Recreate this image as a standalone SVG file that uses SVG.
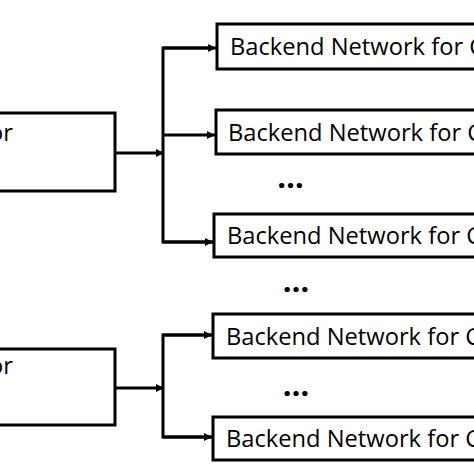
<svg xmlns="http://www.w3.org/2000/svg" width="474" height="474" viewBox="0 0 474 474">
<style>
.box{fill:#fff;stroke:#000;stroke-width:3}
.lbl{font-family:"Open Sans","Liberation Sans",sans-serif;font-size:23.7px;fill:#000}
.dots{font-family:"Open Sans","Liberation Sans",sans-serif;font-size:31px;font-weight:bold;fill:#000}
.ln{fill:none;stroke:#000;stroke-width:3}
</style>
<defs>
<marker id="ah" viewBox="0 0 10 10" refX="10" refY="5" markerWidth="10" markerHeight="8" markerUnits="userSpaceOnUse" orient="auto">
<path d="M0,0 L10,5 L0,10 z" fill="#000"/>
</marker>
</defs>
<rect width="474" height="474" fill="#fff"/>
<g id="src1"><rect class="box" x="-20" y="113" width="135" height="78"/><text class="lbl" x="13" y="141" text-anchor="end">or</text></g>
<g id="src2"><rect class="box" x="-20" y="349" width="135" height="76"/><text class="lbl" x="13" y="374" text-anchor="end">or</text></g>
<g id="b1"><rect class="box" x="217" y="24" width="280" height="45"/><text class="lbl" x="230" y="55">Backend Network for C</text></g>
<g id="b2"><rect class="box" x="216" y="110" width="280" height="44"/><text class="lbl" x="228" y="140.5">Backend Network for C</text></g>
<g id="b3"><rect class="box" x="214" y="214" width="280" height="43"/><text class="lbl" x="227" y="244">Backend Network for C</text></g>
<g id="b4"><rect class="box" x="213" y="314" width="280" height="44"/><text class="lbl" x="226" y="344.5">Backend Network for C</text></g>
<g id="b5"><rect class="box" x="213" y="417" width="280" height="43"/><text class="lbl" x="226" y="447">Backend Network for C</text></g>
<g id="ellipses">
<text class="dots" x="290.5" y="188" text-anchor="middle">…</text>
<text class="dots" x="296" y="292" text-anchor="middle">…</text>
<text class="dots" x="296" y="396" text-anchor="middle">…</text>
</g>
<g id="connectors">
<line class="ln" x1="115" y1="153" x2="164" y2="153" marker-end="url(#ah)"/>
<polyline class="ln" points="213,48 163,48 163,242 213,242" />
<line class="ln" x1="163" y1="48" x2="216" y2="48" marker-end="url(#ah)"/>
<line class="ln" x1="163" y1="135" x2="215" y2="135" marker-end="url(#ah)"/>
<line class="ln" x1="163" y1="242" x2="213" y2="242" marker-end="url(#ah)"/>
<line class="ln" x1="115" y1="388" x2="164" y2="388" marker-end="url(#ah)"/>
<polyline class="ln" points="212,335 163,335 163,437 212,437"/>
<line class="ln" x1="163" y1="335" x2="212" y2="335" marker-end="url(#ah)"/>
<line class="ln" x1="163" y1="437" x2="212" y2="437" marker-end="url(#ah)"/>
</g>
</svg>
